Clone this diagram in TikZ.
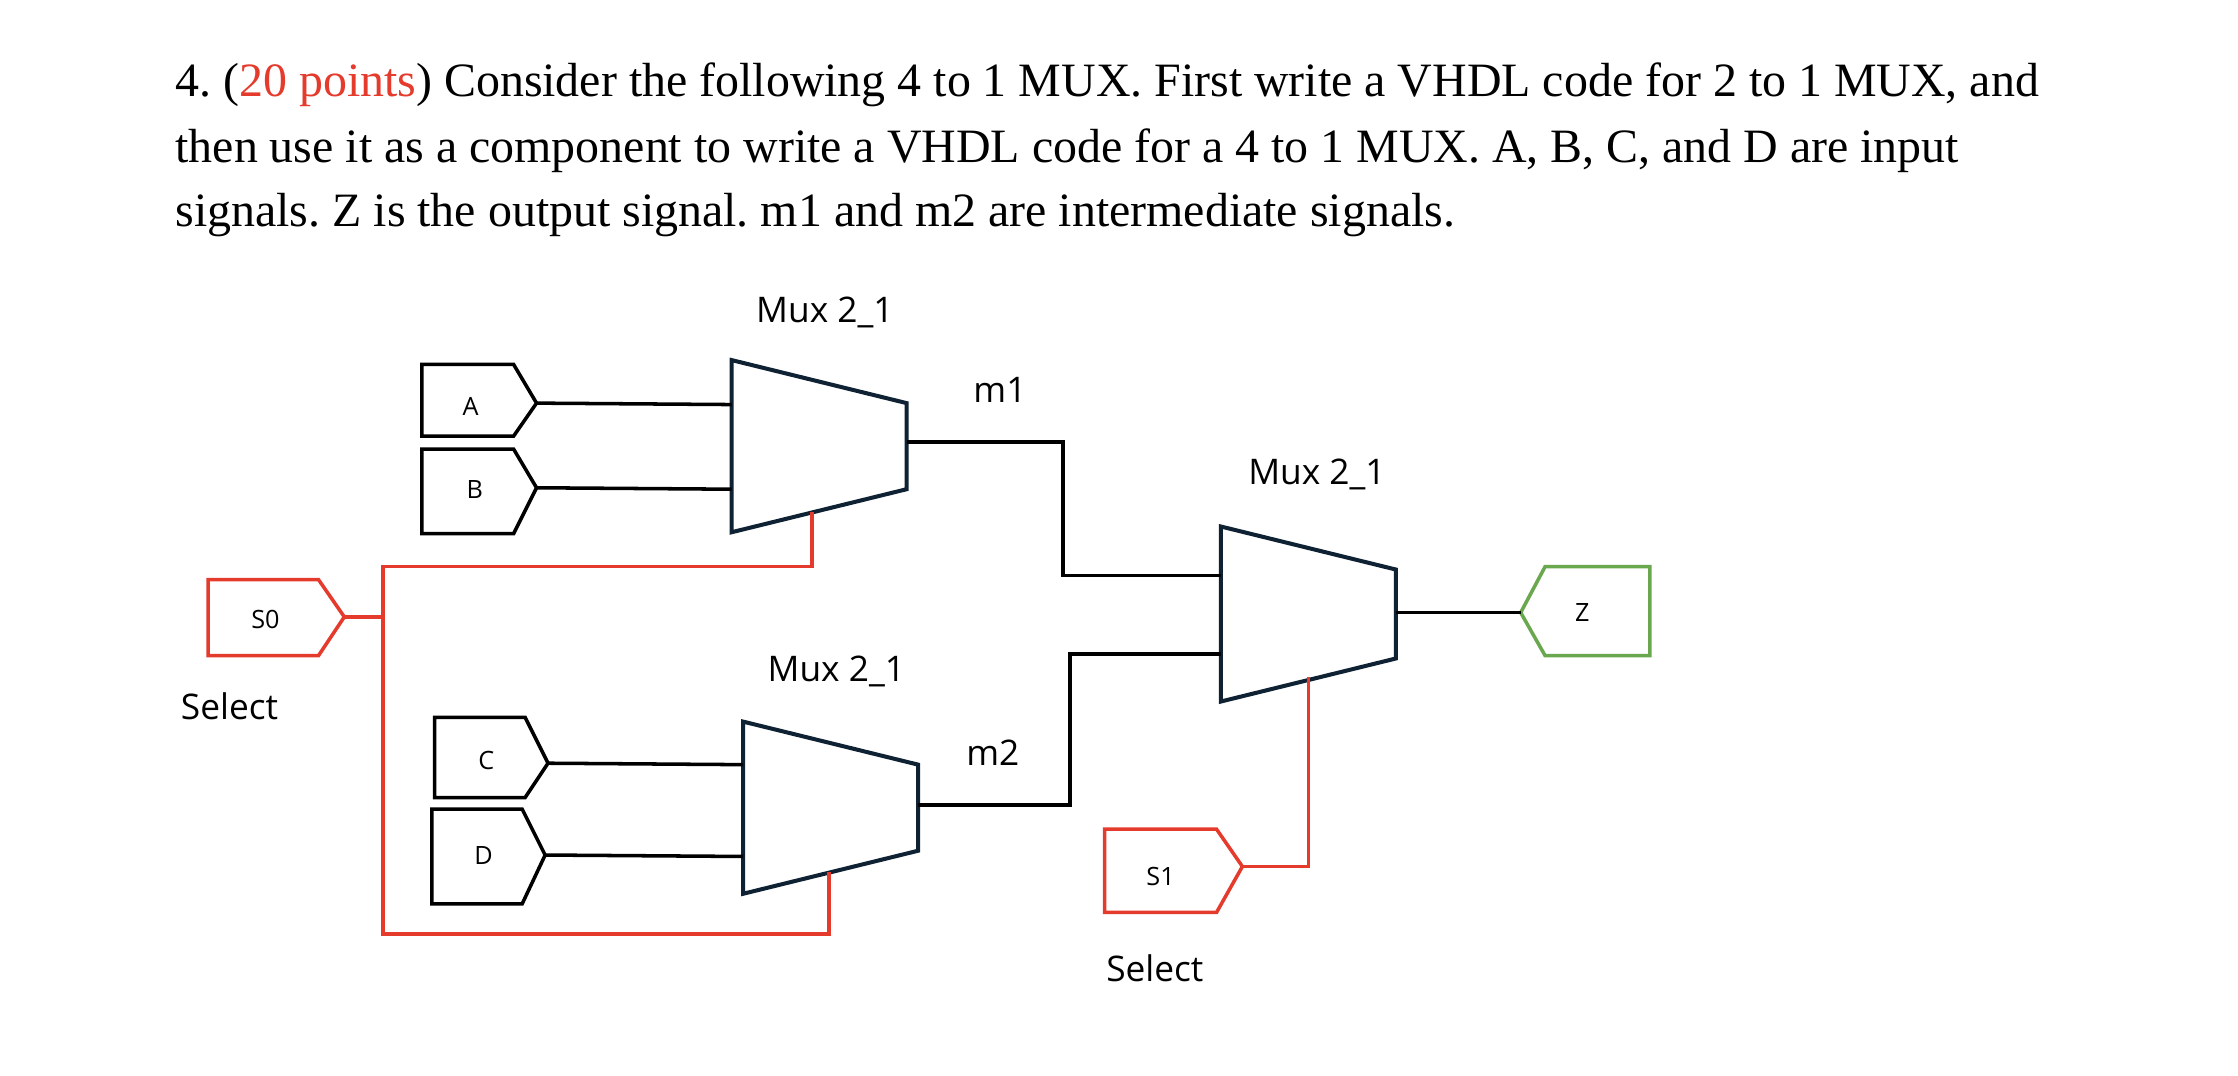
\documentclass[tikz,border=0pt]{standalone}
\usepackage{fontspec}
\setmainfont{Liberation Serif}
\newfontfamily\diag{Open Sans}
\definecolor{sred}{HTML}{E53B2C}
\definecolor{sgreen}{HTML}{6AA84F}
\definecolor{navy}{HTML}{0F2233}
\frenchspacing
\begin{document}
\begin{tikzpicture}[x=0.02cm,y=-0.02cm,
  mux/.style={draw=navy,line width=1.6pt,fill=white},
  pin/.style={draw=black,line width=1.4pt},
  wire/.style={draw=black,line width=1.4pt},
  sel/.style={draw=sred,line width=1.4pt},
  lbl/.style={font=\diag\fontsize{10pt}{11pt}\selectfont},
  big/.style={font=\diag\fontsize{14pt}{16pt}\selectfont},
  para/.style={anchor=base west,inner sep=0pt,font=\fontsize{19pt}{22pt}\selectfont}]
\useasboundingbox (0,0) rectangle (1560,750);
% text
\node[para] (t1) at (122,67) {4. (\textcolor{sred}{20 points}) Consider the following 4 to 1 MUX. First write a VHDL code for 2 to 1 MUX, and};
\node[para] (t2) at (122,113) {then use it as a component to write a VHDL code for a 4 to 1 MUX. A, B, C, and D are input};
\node[para] (t3) at (122,158) {signals. Z is the output signal. m1 and m2 are intermediate signals.};
% muxes
\draw[mux] (510,251) -- (632,281) -- (632,341) -- (510,371) -- cycle;
\draw[mux] (518,503) -- (640,533) -- (640,593) -- (518,623) -- cycle;
\draw[mux] (851,367) -- (973,397) -- (973,459) -- (851,489) -- cycle;
\coordinate (m1a) at (510,282); \coordinate (m1b) at (510,341);
\coordinate (m1o) at (632,308); \coordinate (m1s) at (566,357);
\coordinate (m2a) at (518,533); \coordinate (m2b) at (518,597);
\coordinate (m2o) at (640,561); \coordinate (m2s) at (578,608);
\coordinate (m3a) at (851,401); \coordinate (m3b) at (851,456);
\coordinate (m3o) at (973,427); \coordinate (m3s) at (912,472);
% input boxes
\draw[pin] (294,254) -- (358,254) -- (374,281) -- (358,304) -- (294,304) -- cycle;
\draw[pin] (294,313) -- (358,313) -- (374,340) -- (358,372) -- (294,372) -- cycle;
\draw[pin] (303,500) -- (366,500) -- (382,532) -- (366,556) -- (303,556) -- cycle;
\draw[pin] (301,564) -- (364,564) -- (380,596) -- (364,630) -- (301,630) -- cycle;
\coordinate (A) at (374,281); \coordinate (B) at (374,340);
\coordinate (C) at (382,532); \coordinate (D) at (380,596);
\node[lbl] at (328,283) {A};
\node[lbl] at (331,341) {B};
\node[lbl] at (339,530) {C};
\node[lbl] at (337,596) {D};
% select boxes
\draw[sel] (145,404) -- (222,404) -- (240,430) -- (222,457) -- (145,457) -- cycle;
\coordinate (S0) at (240,430);
\node[lbl] at (185,432) {S0};
\draw[sel] (770,578) -- (848,578) -- (866,604) -- (848,636) -- (770,636) -- cycle;
\coordinate (S1) at (866,604);
\node[lbl] at (809,611) {S1};
\draw[draw=sgreen,line width=1.4pt] (1060,427) -- (1077,395) -- (1150,395) -- (1150,457) -- (1077,457) -- cycle;
\coordinate (Z) at (1060,427);
\node[lbl] at (1103,427) {Z};
% wires
\draw[wire] (A) -- (m1a);
\draw[wire] (B) -- (m1b);
\draw[wire] (C) -- (m2a);
\draw[wire] (D) -- (m2b);
\draw[wire] (m1o) -- (741,308) -- (741,401) -- (m3a);
\draw[wire] (m2o) -- (746,561) -- (746,456) -- (m3b);
\draw[wire] (m3o) -- (Z);
\draw[sel] (m1s) -- (566,395) -- (267,395) -- (267,651) -- (578,651) -- (m2s);
\draw[sel] (S0) -- (267,430);
\draw[sel] (m3s) -- (912,604) -- (S1);
% labels
\node[big] at (575,218) {Mux 2\_1};
\node[big] at (918,331) {Mux 2\_1};
\node[big] at (583,468) {Mux 2\_1};
\node[big] at (697,272) {m1};
\node[big] at (692,525) {m2};
\node[big] at (160,492) {Select};
\node[big] at (805,675) {Select};
\end{tikzpicture}
\end{document}
